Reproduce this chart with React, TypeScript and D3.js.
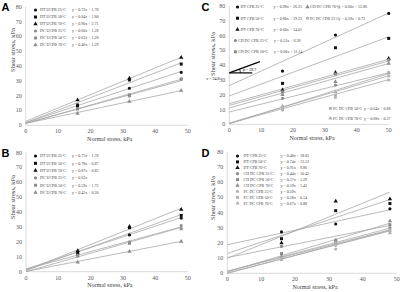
import React from "react";
import * as d3 from "d3";

const xTicks = [0, 10, 20, 30, 40, 50];
const yTicks = [0, 10, 20, 30, 40, 50, 60, 70, 80];

// ---------- Panel A ----------
const aNames = ["DT UCPB 25°C", "DT UCPB 50°C", "DT UCPB 70°C", "DC UCPB 25°C", "DC UCPB 50°C", "DC UCPB 70°C"];
const aX = [16, 32, 48];
const aY = [
  [12.6, 25, 35.7],
  [13.7, 30.6, 41.3],
  [17, 31.7, 45.8],
  [11.5, 19.8, 31],
  [11, 20.5, 31.3],
  [8, 16, 23.4],
];
const aSlope = [0.72, 0.84, 0.9, 0.6, 0.62, 0.46];
const aIntercept = [1.78, 1.8, 2.71, 1.28, 1.28, 1.29];

// ---------- Panel B ----------
const bNames = ["DT UCPB 25°C", "DT UCPB 50°C", "DT UCPB 70°C", "DC UCPB 25°C", "DC UCPB 50°C", "DC UCPB 70°C"];
const bX = [16, 32, 48];
const bY = [
  [12, 24.7, 36],
  [13, 29.5, 37.8],
  [14, 30.3, 41.8],
  [11, 19.8, 31],
  [10.5, 19, 28.8],
  [6.3, 13.5, 20.2],
];
const bSlope = [0.72, 0.78, 0.87, 0.62, 0.59, 0.42];
const bIntercept = [1.78, 0.87, 0.83, 0, 1.72, 0.2];

// ---------- Panel C ----------
const cNames = [
  "DT CPB 25°C", "DT CPB 50°C", "DT CPB 70°C",
  "CH DC CPB 25°C", "CH DC CPB 50°C", "CH DC CPB 70°C",
  "PC DC CPB 25°C", "PC DC CPB 50°C", "PC DC CPB 70°C",
];
const cX = [16.7, 33.3, 50];
const cY = [
  [36, 60.4, 75],
  [27.7, 51.8, 58.1],
  [23.2, 35, 44.6],
  [17.6, 26.6, 35],
  [22, 34, 43.5],
  [20, 28.8, 41.2],
  [9.7, 18.3, 30],
  [11.5, 19.8, 32.8],
  [12.4, 22, 35],
];
const cSlope = [0.98, 0.8, 0.6, 0.53, 0.6, 0.6, 0.59, 0.64, 0.68];
const cIntercept = [26.23, 19.23, 14.01, 8.38, 11.14, 12.86, 0.72, 0.88, 0.37];
const cCohesion = 34.8;
const cPhi = 39.7;

// ---------- Panel D ----------
const dNames = [
  "DT CPB 25°C", "DT CPB 50°C", "DT CPB 70°C",
  "CH DC CPB 25°C", "CH DC CPB 50°C", "CH DC CPB 70°C",
  "PC DC CPB 25°C", "PC DC CPB 50°C", "PC DC CPB 70°C",
];
const dX = [16, 32, 48];
const dY = [
  [27.3, 32.5, 42.5],
  [22.8, 41.3, 46],
  [20, 47.5, 49],
  [17.7, 22, 30],
  [13, 21, 32],
  [11, 20, 34.5],
  [9, 16, 27.5],
  [10, 18.5, 28.5],
  [9.5, 20, 26.5],
];
const dSlope = [0.48, 0.74, 0.91, 0.44, 0.57, 0.59, 0.59, 0.58, 0.67];
const dIntercept = [18.83, 13.12, 9.86, 10.42, 1.29, 1.43, 0, 0.14, 0.88];

const shapes = ["circle", "square", "triangle"];
const groupColors = ["#111111", "#8c8c8c", "#b3b3b3"];
const lineColor = "#a8a8a8";
const textColor = "#404040";
const serif = "'Liberation Serif', 'Times New Roman', serif";

function eqText(s: number, b: number) {
  return b ? `y = ${s.toFixed(2)}x + ${b.toFixed(2)}` : `y = ${s.toFixed(2)}x`;
}

function symbolPath(kind: string) {
  const type = kind === "circle" ? d3.symbolCircle : kind === "square" ? d3.symbolSquare : d3.symbolTriangle;
  const size = kind === "circle" ? 8 : kind === "square" ? 9 : 8;
  return d3.symbol().type(type).size(size)() as string;
}

function Marker({ x, y, i }: { x: number; y: number; i: number }) {
  const kind = shapes[i % 3];
  const color = groupColors[Math.floor(i / 3)];
  return <path d={symbolPath(kind)} transform={`translate(${x},${y})`} fill={color} />;
}

type LegendRow = { i: number; mx: number; tx: number; ex: number; y: number };

type PanelProps = {
  label: string;
  ox: number;
  oy: number;
  xr: [number, number];
  yr: [number, number];
  xs: number[];
  ys: number[][];
  slopes: number[];
  intercepts: number[];
  names: string[];
  xEnd: number;
  legend: LegendRow[];
  yTitleCenter: number;
  children?: React.ReactNode;
};

function Panel(p: PanelProps) {
  const x = d3.scaleLinear().domain([0, 50]).range(p.xr);
  const y = d3.scaleLinear().domain([0, 80]).range(p.yr);
  return (
    <g>
      <text x={p.ox + 1.5} y={p.oy + 11} fontFamily="'Liberation Sans', Arial, sans-serif" fontWeight="bold" fontSize={11} fill="#000">
        {p.label}
      </text>
      {/* axis lines */}
      <line x1={p.xr[0]} x2={p.xr[1]} y1={p.yr[0]} y2={p.yr[0]} stroke="#d0d0d0" strokeWidth={0.8} />
      <line x1={p.xr[0]} x2={p.xr[0]} y1={p.yr[0]} y2={p.yr[1]} stroke="#d0d0d0" strokeWidth={0.8} />
      {yTicks.map((t) => (
        <text key={"y" + t} x={p.xr[0] - 4} y={y(t) + 2} fontFamily={serif} fontSize={6} fill="#595959" textAnchor="end">
          {t}
        </text>
      ))}
      {xTicks.map((t) => (
        <text key={"x" + t} x={x(t)} y={p.yr[0] + 8} fontFamily={serif} fontSize={6} fill="#595959" textAnchor="middle">
          {t}
        </text>
      ))}
      <text x={(p.xr[0] + p.xr[1]) / 2 + 3} y={p.yr[0] + 15.5} fontFamily={serif} fontSize={6} fill={textColor} textAnchor="middle">
        Normal stress, kPa
      </text>
      <text
        transform={`translate(${p.ox + 14.5},${p.yTitleCenter}) rotate(-90)`}
        fontFamily={serif}
        fontSize={6.5}
        fill={textColor}
        textAnchor="middle"
      >
        Shear stress, kPa
      </text>
      {/* trend lines */}
      {p.slopes.map((s, i) => {
        const b = p.intercepts[i];
        const d = d3
          .line<number>()
          .x((v) => x(v))
          .y((v) => y(s * v + b))([0, p.xEnd]) as string;
        return <path key={"l" + i} d={d} stroke={lineColor} strokeWidth={0.8} fill="none" />;
      })}
      {/* points */}
      {p.ys.map((row, i) =>
        row.map((v, k) => <Marker key={`m${i}-${k}`} x={x(p.xs[k])} y={y(v)} i={i} />)
      )}
      {/* legend */}
      {p.legend.map((r) => (
        <g key={"lg" + r.i}>
          <Marker x={r.mx} y={r.y} i={r.i} />
          <text x={r.tx} y={r.y + 1.4} fontFamily={serif} fontSize={4} fill={textColor}>
            {p.names[r.i]}
          </text>
          <text x={r.ex} y={r.y + 1.4} fontFamily={serif} fontSize={4} fill={textColor}>
            {eqText(p.slopes[r.i], p.intercepts[r.i])}
          </text>
        </g>
      ))}
      {p.children}
    </g>
  );
}

function rowsSimple(n: number, mx: number, tx: number, ex: number, y0: number, dy: number): LegendRow[] {
  return d3.range(n).map((i) => ({ i, mx, tx, ex, y: y0 + i * dy }));
}

export default function App() {
  const cx = d3.scaleLinear().domain([0, 50]).range([229.3, 388.7]);
  const cy = d3.scaleLinear().domain([0, 80]).range([124.4, 6]);
  const c0x = cx(0);
  const c0y = cy(cCohesion);
  const hx = cx(7.2);
  const sx = cx(9.6);
  const sy = cy(42.4);
  const ang = Math.atan2(c0y - sy, sx - c0x);
  const r = 11;
  const arc = `M${c0x + r},${c0y} A${r},${r} 0 0 0 ${c0x + r * Math.cos(ang)},${c0y - r * Math.sin(ang)}`;

  const cLegend: LegendRow[] = [
    { i: 0, mx: 237.5, tx: 240.5, ex: 273.5, y: 7 },
    { i: 1, mx: 237.5, tx: 240.5, ex: 273.5, y: 18.2 },
    { i: 2, mx: 237.5, tx: 240.5, ex: 273.5, y: 29.4 },
    { i: 3, mx: 235.5, tx: 238, ex: 274, y: 40.6 },
    { i: 4, mx: 235.5, tx: 238, ex: 274, y: 51.8 },
    { i: 5, mx: 307.5, tx: 310, ex: 338.5, y: 7 },
    { i: 6, mx: 307.5, tx: 310, ex: 338.5, y: 18.2 },
    { i: 7, mx: 330.5, tx: 333, ex: 364, y: 108.3 },
    { i: 8, mx: 330.5, tx: 333, ex: 364, y: 118.3 },
  ];

  return (
    <svg width={400} height={292} style={{ position: "absolute", left: 0, top: 0, background: "#fff" }}>
      <rect width={400} height={292} fill="#fff" />
      <Panel
        label="A" ox={0} oy={0}
        xr={[25.7, 187.7]} yr={[125.3, 6.7]}
        xs={aX} ys={aY} slopes={aSlope} intercepts={aIntercept} names={aNames}
        xEnd={48}
        legend={rowsSimple(6, 35.5, 40, 72, 10, 7)}
        yTitleCenter={50}
      />
      <Panel
        label="B" ox={0} oy={146}
        xr={[26, 187.7]} yr={[271.7, 152.5]}
        xs={bX} ys={bY} slopes={bSlope} intercepts={bIntercept} names={bNames}
        xEnd={48}
        legend={rowsSimple(6, 35.5, 40, 72, 156, 7.3)}
        yTitleCenter={197}
      />
      <Panel
        label="C" ox={200} oy={0}
        xr={[229.3, 388.7]} yr={[124.4, 6]}
        xs={cX} ys={cY} slopes={cSlope} intercepts={cIntercept} names={cNames}
        xEnd={50}
        legend={cLegend}
        yTitleCenter={54}
      >
        <line x1={c0x} y1={c0y} x2={hx} y2={c0y} stroke="#000" strokeWidth={1.2} />
        <line x1={c0x} y1={c0y} x2={sx} y2={sy} stroke="#000" strokeWidth={1.2} />
        <path d={arc} stroke="#000" strokeWidth={0.8} fill="none" />
        <text x={242.7} y={70.5} fontFamily={serif} fontSize={4} fill="#000">
          {`φ = ${cPhi}`}
        </text>
        <text x={206.5} y={80.3} fontFamily={serif} fontSize={4} fill="#000">
          {`c = ${cCohesion}`}
        </text>
      </Panel>
      <Panel
        label="D" ox={200} oy={146}
        xr={[227.3, 396.7]} yr={[273.3, 152]}
        xs={dX} ys={dY} slopes={dSlope} intercepts={dIntercept} names={dNames}
        xEnd={48}
        legend={rowsSimple(9, 237.5, 243.5, 280.5, 156, 5.9)}
        yTitleCenter={198}
      />
    </svg>
  );
}
